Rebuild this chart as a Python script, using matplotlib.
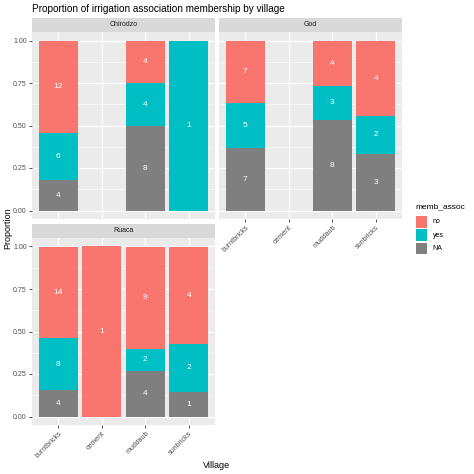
import numpy as np
import matplotlib
matplotlib.use("Agg")
import matplotlib.pyplot as plt
from matplotlib.patches import Rectangle

plt.rcParams['font.family'] = ['Liberation Sans', 'DejaVu Sans']

villages = ["Chirodzo", "God", "Ruaca"]
categories = ["burntbricks", "cement", "muddaub", "sunbricks"]
no_counts = [[12, 0, 4, 0], [7, 0, 4, 4], [14, 1, 9, 4]]
yes_counts = [[6, 0, 4, 1], [5, 0, 3, 2], [8, 0, 2, 2]]
na_counts = [[4, 0, 8, 0], [7, 0, 8, 3], [4, 0, 4, 1]]
legend_labels = ["no", "yes", "NA"]

col_no = "#F8766D"
col_yes = "#00BFC4"
col_na = "#7F7F7F"

W = H = 474
fig = plt.figure(figsize=(4.74, 4.74), dpi=100)


def px_axes(x0, y0, x1, y1):
    return fig.add_axes([x0 / W, 1 - y1 / H, (x1 - x0) / W, (y1 - y0) / H])


# panel boxes in pixels (left, top, right, bottom)
panels = [(32, 32, 215, 219), (219, 32, 402, 219), (32, 238, 215, 425)]
show_y = [True, False, True]
show_x = [False, True, True]

x = np.arange(len(categories))
for k, v in enumerate(villages):
    x0, y0, x1, y1 = panels[k]
    ax = px_axes(x0, y0, x1, y1)
    ax.set_facecolor("#EBEBEB")
    no = np.array(no_counts[k], float)
    yes = np.array(yes_counts[k], float)
    na = np.array(na_counts[k], float)
    tot = no + yes + na
    ok = tot > 0
    safe = np.where(ok, tot, 1)
    p_na = na / safe
    p_yes = yes / safe
    p_no = no / safe
    for seg, bottom, counts, c in [(p_na, 0, na, col_na),
                                   (p_yes, p_na, yes, col_yes),
                                   (p_no, p_na + p_yes, no, col_no)]:
        bottom = np.zeros(len(x)) + bottom
        m = (counts > 0)
        ax.bar(x[m], seg[m], bottom=bottom[m], width=0.9, color=c, zorder=3)
        for xi, b, s, n in zip(x[m], bottom[m], seg[m], counts[m]):
            ax.text(xi, b + s / 2, str(int(n)), color="white", ha="center",
                    va="center", fontsize=6, zorder=4)
    ax.set_xlim(-0.6, 3.6)
    ax.set_ylim(-0.05, 1.05)
    ax.set_yticks([0, 0.25, 0.5, 0.75, 1.0])
    ax.set_yticks([0.125, 0.375, 0.625, 0.875], minor=True)
    ax.set_xticks(x)
    ax.grid(True, which="major", color="white", linewidth=0.9, zorder=0)
    ax.grid(True, which="minor", axis="y", color="white", linewidth=0.45, zorder=0)
    ax.tick_params(which="minor", length=0)
    ax.tick_params(which="major", length=2.2, color="#333333", width=0.6,
                   labelsize=5, labelcolor="#4D4D4D", pad=1.5)
    ax.set_axisbelow(True)
    for s in ax.spines.values():
        s.set_visible(False)
    if show_y[k]:
        ax.set_yticklabels(["0.00", "0.25", "0.50", "0.75", "1.00"])
    else:
        ax.tick_params(axis="y", length=0, labelleft=False)
    if show_x[k]:
        ax.set_xticklabels(categories, rotation=45, ha="right",
                           rotation_mode="anchor")
    else:
        ax.tick_params(axis="x", length=0, labelbottom=False)
    # facet strip
    sax = px_axes(x0, y0 - 14, x1, y0)
    sax.set_facecolor("#D9D9D9")
    sax.set_xticks([])
    sax.set_yticks([])
    for s in sax.spines.values():
        s.set_visible(False)
    sax.text(0.5, 0.5, v, ha="center", va="center", fontsize=5,
             color="#1A1A1A", transform=sax.transAxes)

fig.text(32 / W, 1 - 9 / H, "Proportion of irrigation association membership by village",
         ha="left", va="center", fontsize=7.2, color="black")
fig.text(7.5 / W, 1 - 228 / H, "Proportion", rotation=90, ha="center",
         va="center", fontsize=6.5, color="black")
fig.text(217 / W, 1 - 465 / H, "Village", ha="center", va="center",
         fontsize=6.5, color="black")

# legend drawn by hand in pixel positions
fig.text(415 / W, 1 - 207 / H, "memb_assoc", ha="left", va="center",
         fontsize=6, color="black")
for i, (lab, c) in enumerate(zip(legend_labels, [col_no, col_yes, col_na])):
    top = 216 + i * 13.3
    fig.add_artist(Rectangle((415.7 / W, 1 - (top + 11.7) / H), 11.7 / W, 11.7 / H,
                             facecolor=c, edgecolor="none",
                             transform=fig.transFigure))
    fig.text(432.5 / W, 1 - (top + 5.85) / H, lab, ha="left", va="center",
             fontsize=5, color="black")

fig.savefig("out.png", dpi=100)
